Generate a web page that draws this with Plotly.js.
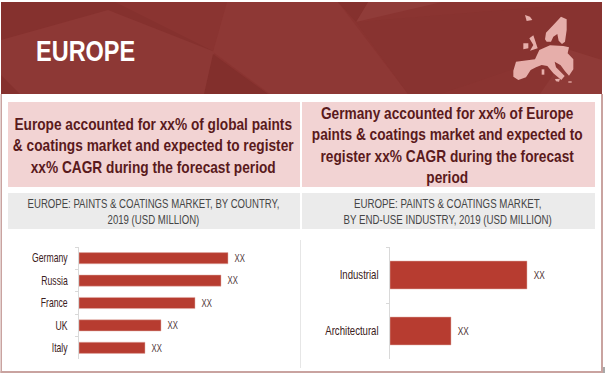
<!DOCTYPE html>
<html><head><meta charset="utf-8">
<script src="https://cdn.plot.ly/plotly-3.0.1.min.js"></script>
<style>html,body{margin:0;padding:0;background:#fff}#c{width:605px;height:376px}</style>
</head><body><div id="c"></div>
<script>
var countries = ['Germany','Russia','France','UK','Italy'];
var countryValues = [149,142,116,82,66];
var industries = ['Industrial','Architectural'];
var industryValues = [137,61];
var valueLabel = 'XX';
var pageTitle = 'EUROPE';
var leftHeadline = 'Europe accounted for xx% of global paints<br>& coatings market and expected to register<br>xx% CAGR during the forecast period';
var rightHeadline = 'Germany accounted for xx% of Europe<br>paints & coatings market and expected to<br>register xx% CAGR during the forecast<br>period';
var leftCaption = 'EUROPE: PAINTS & COATINGS MARKET, BY COUNTRY,<br>2019 (USD MILLION)';
var rightCaption = 'EUROPE: PAINTS & COATINGS MARKET,<br>BY END-USE INDUSTRY, 2019 (USD MILLION)';

var W=605,H=376, FONT='"Liberation Sans",sans-serif';
function px(x){return x/W} function py(y){return 1-y/H}
function rect(x0,y0,x1,y1,fill){return {type:'rect',xref:'paper',yref:'paper',layer:'below',x0:px(x0),x1:px(x1),y0:py(y1),y1:py(y0),fillcolor:fill,line:{width:0}}}
function poly(pts,fill,layer){
  var d=pts.map(function(p,i){return (i?'L':'M')+px(p[0])+','+py(p[1])}).join(' ')+' Z';
  return {type:'path',xref:'paper',yref:'paper',layer:layer||'below',path:d,fillcolor:fill,line:{width:0}};
}
function mapPoly(pts){return poly(pts.map(function(p){return [500+p[0]/3,10+p[1]/3]}),'#e6aeaa','below')}
var shapes=[
  rect(1,2,602,94,'#8a3431'),
  poly([[1,2],[115,2],[215,52],[205,94],[1,94]],'#85312e'),
  poly([[1,40],[108,10],[215,52],[205,94],[20,94],[1,75]],'#8d3835'),
  poly([[227,2],[338,2],[408,94],[270,94],[213,52]],'#8e3835'),
  poly([[213,54],[268,94],[204,94]],'#822f2c'),
  poly([[356,22],[368,2],[442,2]],'#903c39'),
  poly([[338,2],[368,2],[356,22]],'#85312e'),
  poly([[356,22],[602,2],[602,60],[570,50],[440,94],[408,94]],'#883330'),
  poly([[570,50],[602,60],[602,94],[540,94]],'#8f3a37'),
  // map of Europe
  mapPoly([[75,15],[90,20],[97,30],[80,33]]),
  mapPoly([[135,88],[138,68],[160,45],[183,20],[200,28],[200,60],[195,95],[186,102],[176,92],[172,72],[160,80],[153,95],[140,95]]),
  mapPoly([[88,85],[100,76],[113,115],[90,122],[100,105]]),
  mapPoly([[70,100],[85,100],[85,115],[70,118]]),
  mapPoly([[40,182],[48,155],[88,150],[105,148],[118,120],[150,106],[190,108],[207,112],[203,130],[220,148],[220,178],[207,197],[195,184],[182,166],[164,155],[168,172],[194,198],[184,210],[160,190],[142,168],[125,165],[108,172],[92,180],[78,202],[55,210],[40,200]]),
  mapPoly([[165,207],[180,206],[177,215],[168,214]]),
  mapPoly([[125,178],[133,178],[133,194],[125,194]]),
  mapPoly([[205,214],[215,214],[215,218],[205,218]]),
  // panels
  rect(8,102,300,187,'#f2d3d3'),
  rect(302,102,595,187,'#f2d3d3'),
  rect(8,193,300,229,'#ebebeb'),
  rect(302,193,595,229,'#ebebeb'),
  // frame
  rect(0.5,94,2,373,'#c9a3a0'),
  rect(601,94,603,373,'#c9a3a0'),
  rect(0.5,371,603,373,'#c9a3a0'),
  rect(300,240,301,368,'#e6e6e6'),
  rect(603.5,367,604.5,373,'#555555')
];
function note(x,y,text,size,color,bold,anchor){
  return {xref:'paper',yref:'paper',x:px(x),y:py(y),xanchor:anchor||'center',yanchor:'middle',showarrow:false,align:'center',
    text:bold?'<b>'+text+'</b>':text,font:{family:FONT,size:size,color:color}};
}
var annotations=[
  note(34,51,pageTitle,29,'#ffffff',true,'left'),
  note(154,145,leftHeadline,16.5,'#5a1a1c',true),
  note(447,145,rightHeadline,16.5,'#5a1a1c',true),
  note(154,212,leftCaption,12,'#454545',false),
  note(447,212,rightCaption,12,'#454545',false)
];
function bar(cats,vals,xa,ya){
  return {type:'bar',orientation:'h',y:cats,x:vals,xaxis:xa,yaxis:ya,width:0.5,
    marker:{color:'#b73c30',line:{color:'#e3b2ab',width:0.5}},
    text:vals.map(function(){return '\u00a0'+valueLabel}),textposition:'outside',cliponaxis:false,
    textfont:{family:FONT,size:11,color:'#4a3030'},hoverinfo:'skip'};
}
function yAxis(){
  return {domain:[py(359),py(247)],autorange:'reversed',type:'category',tickson:'boundaries',ticks:'outside',ticklen:3,tickcolor:'#d9d9d9',
    showline:true,linecolor:'#d9d9d9',linewidth:1,showgrid:false,zeroline:false,ticklabelstandoff:8,
    tickfont:{family:FONT,size:12,color:'#3a2020'}};
}
function xAxis(x0,x1,anchor){
  return {domain:[px(x0),px(x1)],range:[0,x1-x0],visible:false,anchor:anchor,fixedrange:true};
}
var data=[bar(countries,countryValues,'x','y'),bar(industries,industryValues,'x2','y2')];
var yl=yAxis(); yl.anchor='x';
var yr=yAxis(); yr.anchor='x2';
var layout={width:W,height:H,margin:{l:0,r:0,t:0,b:0},paper_bgcolor:'#ffffff',plot_bgcolor:'rgba(0,0,0,0)',showlegend:false,
  xaxis:xAxis(79,289,'y'),xaxis2:xAxis(390,590,'y2'),yaxis:yl,yaxis2:yr,shapes:shapes,annotations:annotations,bargap:0.5};

// condense the installed font horizontally, keeping each text's anchor edge fixed
function squeeze(el,s,edge,dx){
  var b=el.getBBox(), a=edge==='left'?b.x:edge==='right'?b.x+b.width:b.x+b.width/2;
  var t=el.getAttribute('transform')||'';
  el.setAttribute('transform',t+' translate('+(a+(dx||0))+',0) scale('+s+',1) translate('+(-a)+',0)');
}
Plotly.newPlot('c',data,layout,{staticPlot:true,displayModeBar:false}).then(function(){
  var root=document.getElementById('c');
  var notes=root.querySelectorAll('.annotation-text');
  var factors=[0.81,0.83,0.83,0.8,0.81];
  notes.forEach(function(el,i){squeeze(el,factors[i],i===0?'left':'center')});
  root.querySelectorAll('.ytick text').forEach(function(el){squeeze(el,0.72,'right')});
  root.querySelectorAll('.y2tick text').forEach(function(el){squeeze(el,0.8,'right')});
  root.querySelectorAll('.barlayer text').forEach(function(el){squeeze(el,0.75,'left',1.5)});
});
</script></body></html>
